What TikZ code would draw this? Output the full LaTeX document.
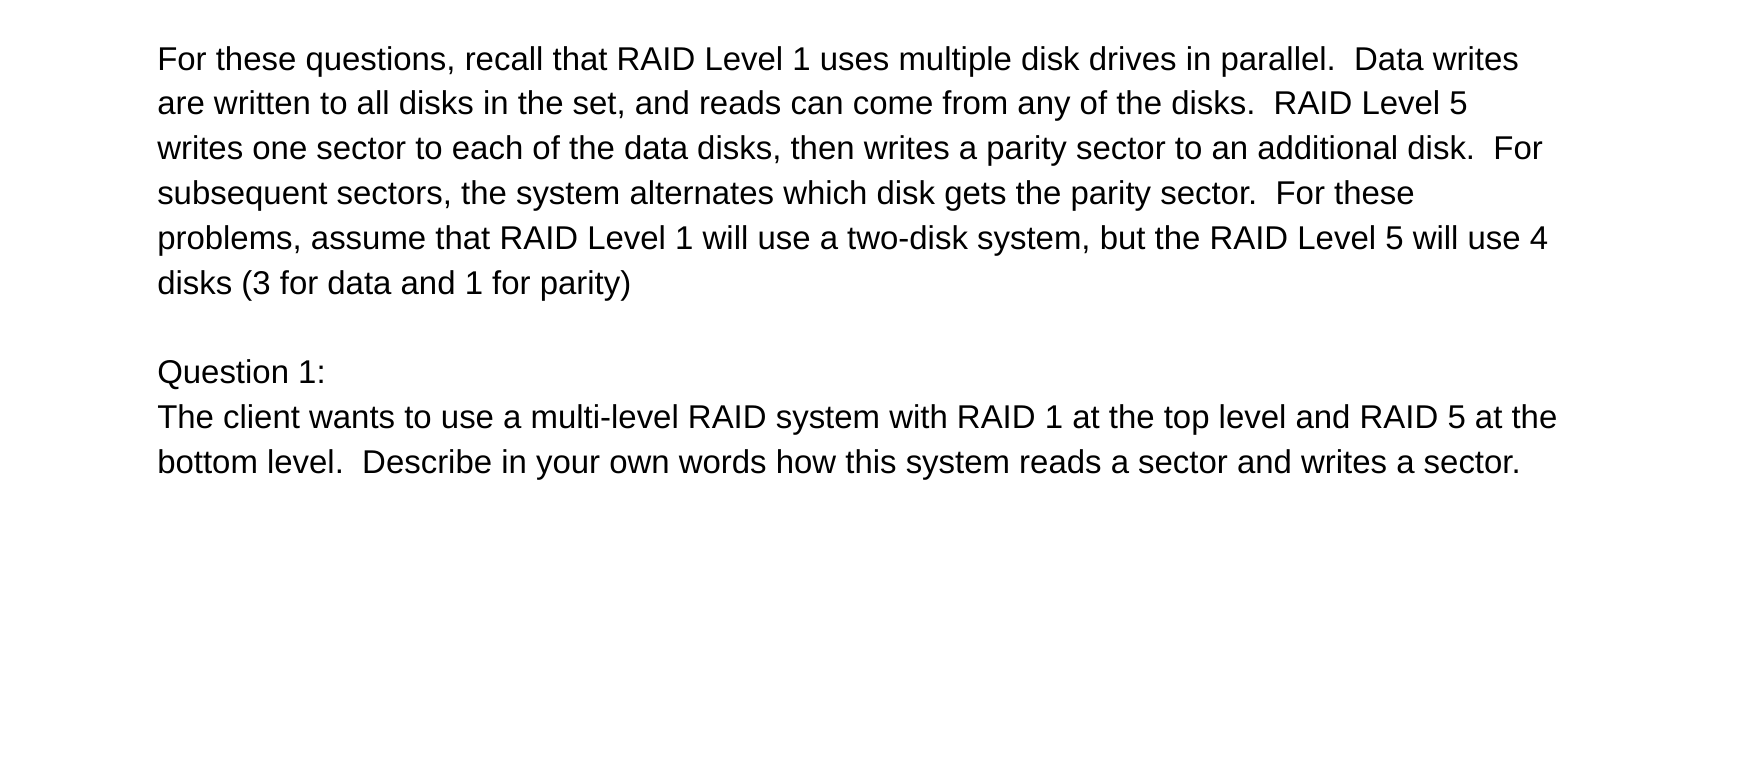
\documentclass[tikz,border=0pt]{standalone}
\usepackage{fontspec}
\setmainfont{Liberation Sans}
\begin{document}
\begin{tikzpicture}[x=0.75pt,y=-0.75pt,
  txt/.style={anchor=base west,inner sep=0pt,font=\fontsize{24.7}{29}\selectfont}]
\useasboundingbox[fill=white] (0,0) rectangle (1758,782);
\node[txt] (l1) at (157,70) {For these questions, recall that RAID Level 1 uses multiple disk drives in parallel.\ \ Data writes};
\node[txt] (l2) at (157,114.9) {are written to all disks in the set, and reads can come from any of the disks.\ \ RAID Level 5};
\node[txt] (l3) at (157,159.7) {writes one sector to each of the data disks, then writes a parity sector to an additional disk.\ \ For};
\node[txt] (l4) at (157,204.6) {subsequent sectors, the system alternates which disk gets the parity sector.\ \ For these};
\node[txt] (l5) at (157,249.4) {problems, assume that RAID Level 1 will use a two-disk system, but the RAID Level 5 will use 4};
\node[txt] (l6) at (157,294.3) {disks (3 for data and 1 for parity)};
\node[txt] (q1) at (157,383.5) {Question 1:};
\node[txt] (l7) at (157,428.4) {The client wants to use a multi-level RAID system with RAID 1 at the top level and RAID 5 at the};
\node[txt] (l8) at (157,473.2) {bottom level.\ \ Describe in your own words how this system reads a sector and writes a sector.};
\end{tikzpicture}
\end{document}
